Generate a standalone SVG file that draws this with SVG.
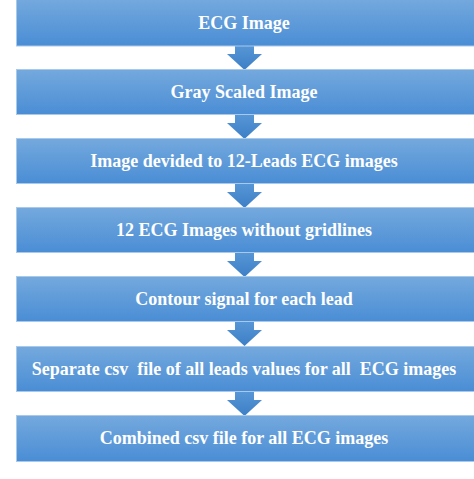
<svg xmlns="http://www.w3.org/2000/svg" width="474" height="479" viewBox="0 0 474 479">
<defs>
<linearGradient id="bg" x1="0" y1="0" x2="0" y2="1">
<stop offset="0" stop-color="#74a9dd"/>
<stop offset="1" stop-color="#4a8dd5"/>
</linearGradient>
<linearGradient id="ag" x1="0" y1="0" x2="0" y2="1">
<stop offset="0" stop-color="#5696d6"/>
<stop offset="1" stop-color="#3d7fc6"/>
</linearGradient>
<path id="arr" d="M235,0 L254,0 L254,8 L262,8 L244.5,24 L227,8 L235,8 Z"/>
</defs>
<style>
.box{fill:url(#bg);stroke:#a9c9ea;stroke-width:1}
.t{font-family:"Liberation Serif","Times New Roman",serif;font-weight:bold;font-size:18px;fill:#ffffff;text-anchor:middle}
.a{fill:url(#ag)}
</style>
<rect width="474" height="479" fill="#ffffff"/>
<g id="connectors">
<use href="#arr" class="a" x="0" y="46"/>
<use href="#arr" class="a" x="0" y="115"/>
<use href="#arr" class="a" x="0" y="184"/>
<use href="#arr" class="a" x="0" y="253"/>
<use href="#arr" class="a" x="0" y="322"/>
<use href="#arr" class="a" x="0" y="392"/>
</g>
<g id="n1"><rect class="box" x="16.5" y="-1" width="470" height="47"/><text class="t" x="244" y="29">ECG Image</text></g>
<g id="n2"><rect class="box" x="16.5" y="69.5" width="470" height="45"/><text class="t" x="244" y="98">Gray Scaled Image</text></g>
<g id="n3"><rect class="box" x="16.5" y="138.5" width="470" height="45"/><text class="t" x="244" y="167">Image devided to 12-Leads ECG images</text></g>
<g id="n4"><rect class="box" x="16.5" y="207.5" width="470" height="45"/><text class="t" x="244" y="236">12 ECG Images without gridlines</text></g>
<g id="n5"><rect class="box" x="16.5" y="276.5" width="470" height="45"/><text class="t" x="244" y="305">Contour signal for each lead</text></g>
<g id="n6"><rect class="box" x="16.5" y="346.5" width="470" height="45"/><text class="t" x="244" y="375" xml:space="preserve">Separate csv  file of all leads values for all  ECG images</text></g>
<g id="n7"><rect class="box" x="16.5" y="415.5" width="470" height="46"/><text class="t" x="244" y="444">Combined csv file for all ECG images</text></g>
</svg>
